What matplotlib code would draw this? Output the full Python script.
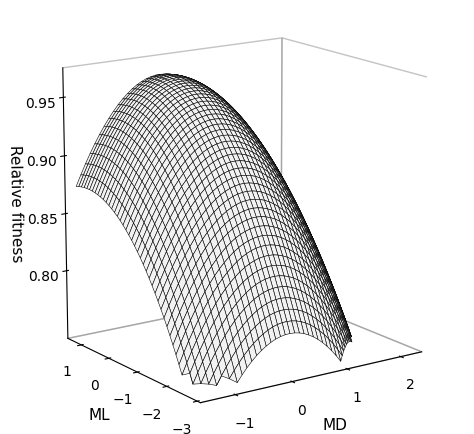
import numpy as np
import matplotlib
matplotlib.use("Agg")
import matplotlib.pyplot as plt

# fitted quadratic fitness surface parameters
md_range = [-1.6, 2.4]
ml_range = [-3.1, 1.5]
peak_fit = 0.962
md_opt = 0.0
ml_opt = 0.9
md_curv = 0.038
ml_curv = 0.012
z_floor = 0.745
md_ticks = [-1, 0, 1, 2]
ml_ticks = [-3, -2, -1, 0, 1]
z_ticks = [0.80, 0.85, 0.90, 0.95]

md = np.linspace(-1.5, 2.2, 45)
ml = np.linspace(-3.0, 1.3, 45)
MD, ML = np.meshgrid(md, ml)
Z = peak_fit - md_curv * (MD - md_opt) ** 2 - ml_curv * (ML - ml_opt) ** 2
Z = np.where(Z < z_floor, np.nan, Z)

fig = plt.figure(figsize=(4.74, 4.34), dpi=100)
ax = fig.add_axes([-0.04, -0.04, 1.08, 1.08], projection="3d")
ax.set_box_aspect((1, 0.9, 1.05), zoom=0.95)
ax.plot_surface(MD, ML, Z, color="#f2f2f2", edgecolor="black", linewidth=0.4, shade=False)
ax.view_init(elev=15, azim=-125)
ax.set_xlim(md_range); ax.set_ylim(ml_range); ax.set_zlim(0.74, 0.975)
ax.set_xticks(md_ticks); ax.set_yticks(ml_ticks); ax.set_zticks(z_ticks)
ax.set_xlabel("MD", fontsize=11); ax.set_ylabel("ML", fontsize=11)
ax.set_zlabel("Relative fitness", fontsize=11)
ax.grid(False)
for a in (ax.xaxis, ax.yaxis, ax.zaxis):
    a.pane.fill = False
    a.pane.set_edgecolor("#888888")
ax.tick_params(labelsize=10)
fig.savefig("out.png", dpi=100)
